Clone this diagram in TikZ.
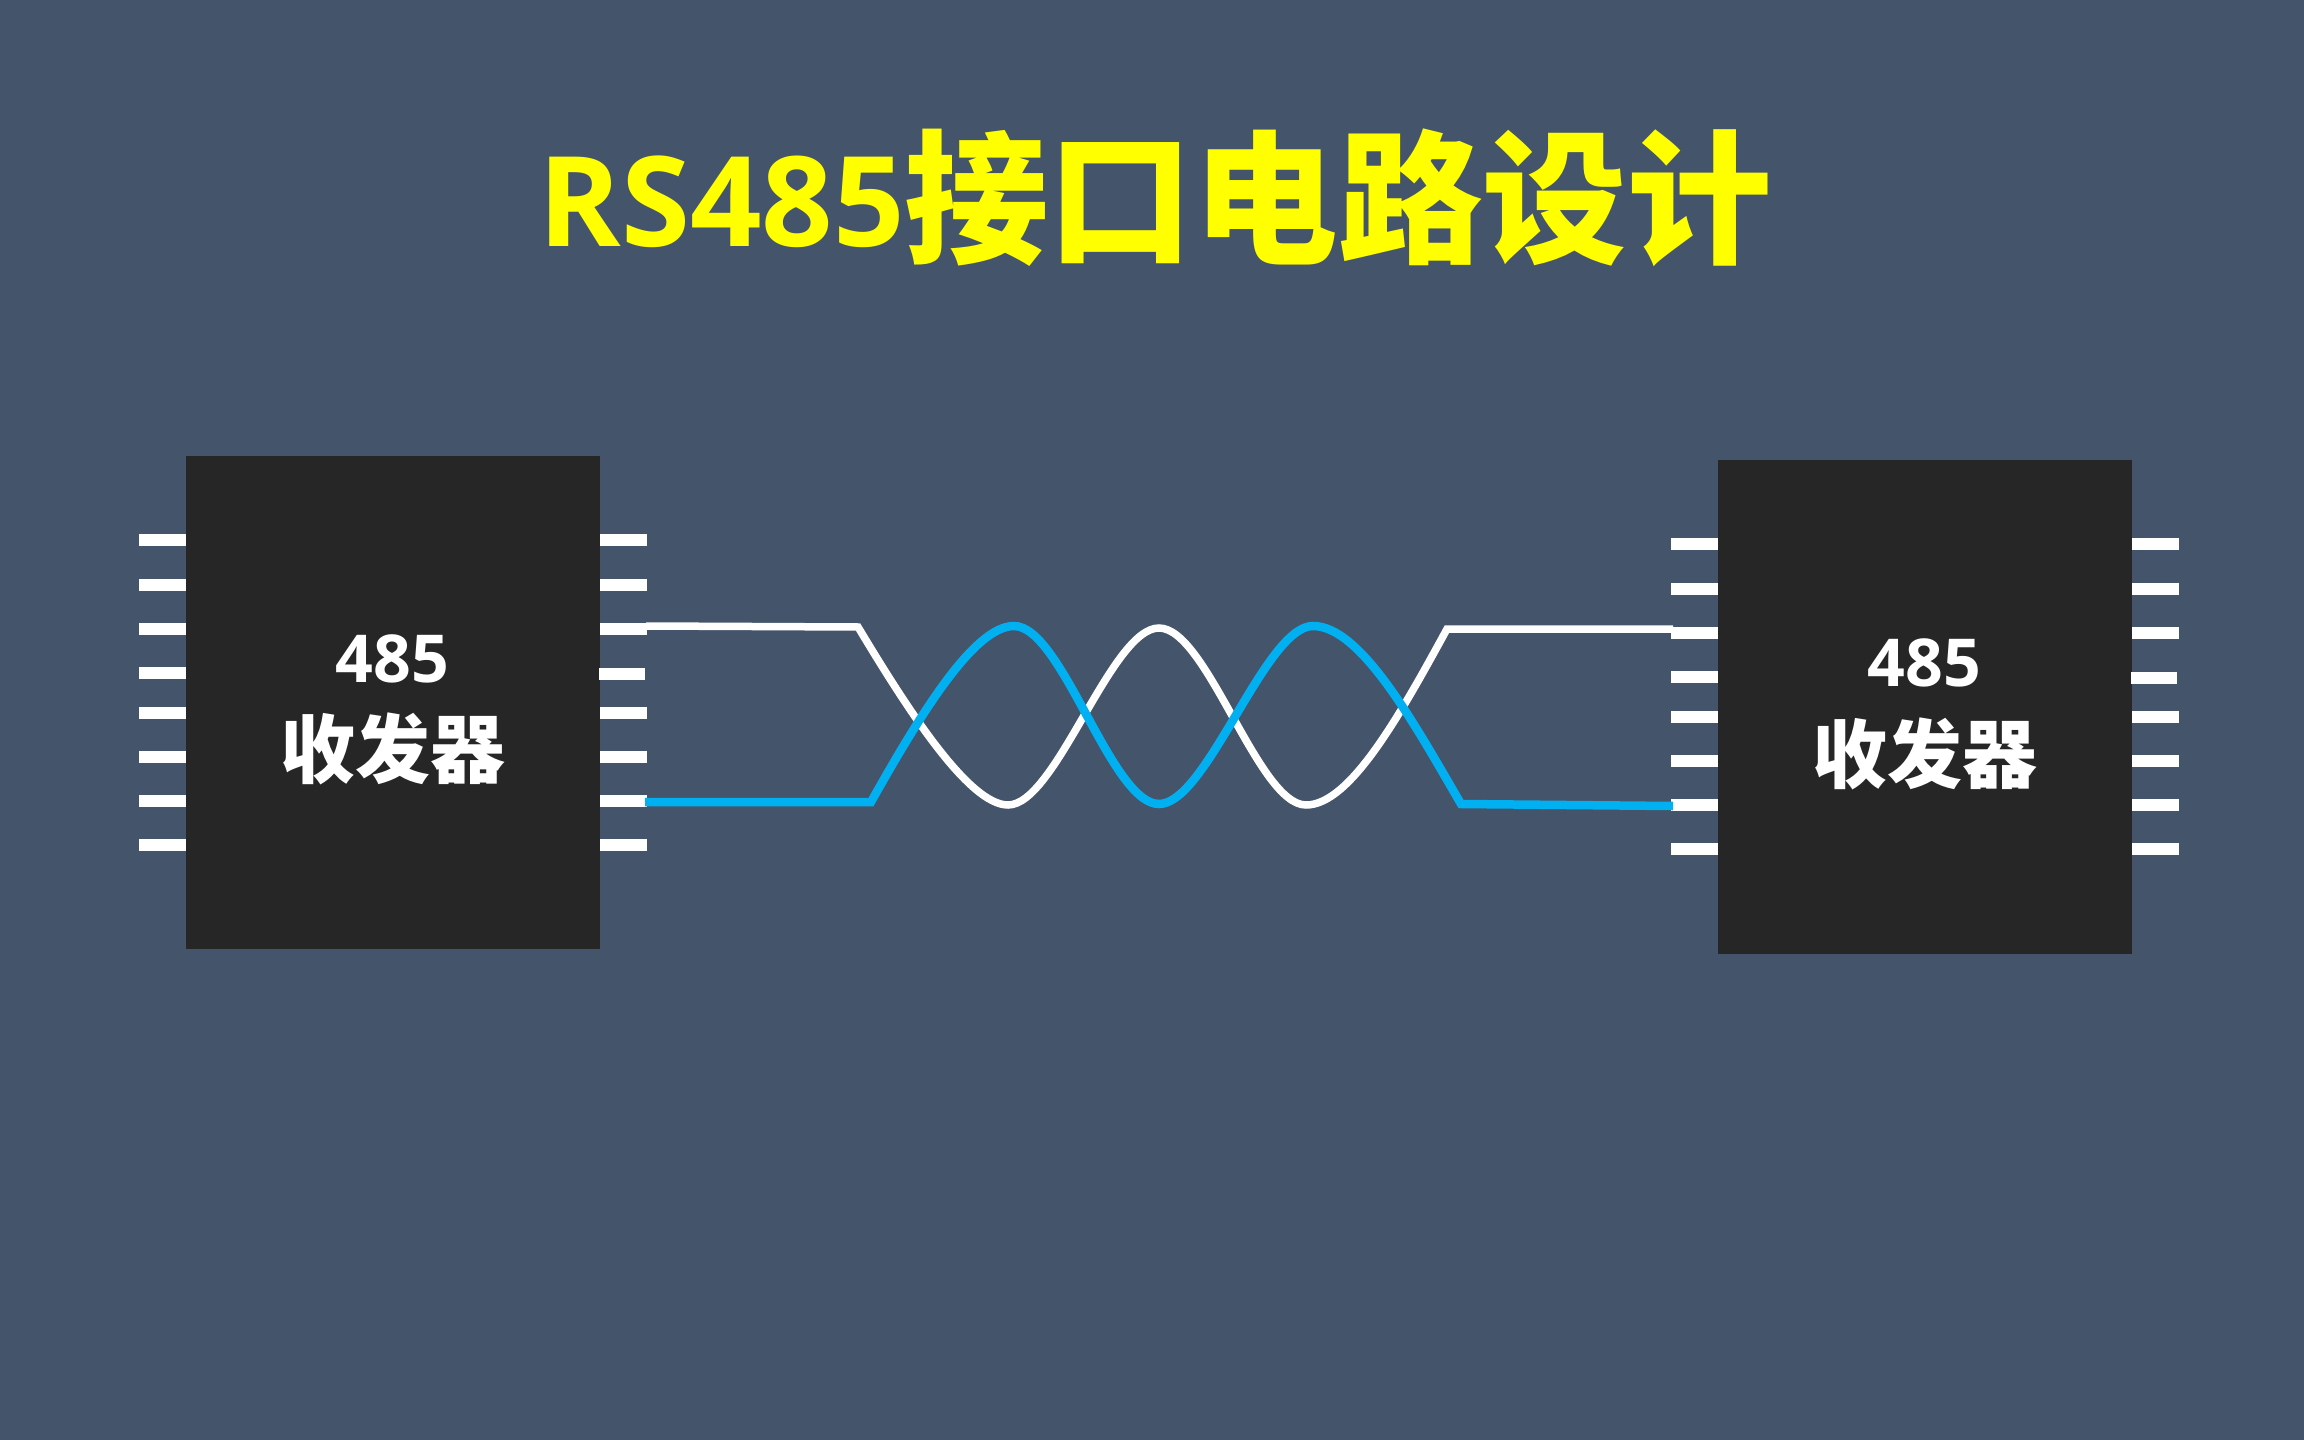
\documentclass[tikz,border=0pt]{standalone}
\usepackage{fontspec}
\newfontfamily\cjk{Noto Sans CJK SC}
\newfontfamily\latn{Open Sans}
\definecolor{slatebg}{HTML}{44546A}
\definecolor{chipgray}{HTML}{262626}
\definecolor{wireblue}{HTML}{00B0F0}
\definecolor{titleyellow}{HTML}{FFFF00}
\tikzset{
 chip/.style={fill=chipgray,minimum width=4.14cm,minimum height=4.93cm,inner sep=0pt},
 pin/.style={line width=12*0.01cm,white},
 chiptext/.style={white,inner sep=0pt,font=\cjk\bfseries},
 whitewire/.style={line width=7.5*0.01cm,white,line join=miter},
 bluewire/.style={line width=8.5*0.01cm,wireblue,line join=miter}
}
\begin{document}
\begin{tikzpicture}[x=0.01cm,y=-0.01cm]
 \fill[slatebg] (0,0) rectangle (2304,1440);
 \useasboundingbox (0,0) rectangle (2304,1440);
 \node[anchor=base,inner sep=0pt,text=titleyellow,font=\cjk\bfseries\fontsize{41.1}{44}\selectfont] (title) at (1155,253) {\raisebox{0.06cm}{\latn\fontsize{35.6}{44}\selectfont RS485}接口电路设计};
 % two chips
 \foreach \dx/\dy/\side in {0/0/L,1532/4.4/R} {
  \node[chip] (chip\side) at (393+\dx,702.5+\dy) {};
  \node[chiptext,font=\latn\bfseries\fontsize{18.8}{20}\selectfont] (num\side) at (392.5+\dx,659+\dy) {485};
  \node[chiptext,font=\cjk\bfseries\fontsize{21.3}{24}\selectfont] (name\side) at (393+\dx,749+\dy) {收发器};
  \foreach \y in {540,584.7,629,672.7,712.7,757,801,845} {
   \draw[pin] (139+\dx,\y+\dy) -- (186+\dx,\y+\dy);
  }
  \foreach \y in {540,584.7,629,712.7,757,801,845} {
   \draw[pin] (600+\dx,\y+\dy) -- (647+\dx,\y+\dy);
  }
  \draw[pin] (599+\dx,674+\dy) -- (645+\dx,674+\dy);
 }
 % wire ends
 \coordinate (whiteA) at (646,626);
 \coordinate (whiteB) at (858,627);
 \coordinate (whiteC) at (1008,805);
 \coordinate (whiteD) at (1159,628);
 \coordinate (whiteE) at (1306,805);
 \coordinate (whiteF) at (1447,629);
 \coordinate (whiteG) at (1673,629);
 \coordinate (blueA) at (645,802);
 \coordinate (blueB) at (871,802);
 \coordinate (blueC) at (1014,626);
 \coordinate (blueD) at (1159,804);
 \coordinate (blueE) at (1313,626);
 \coordinate (blueF) at (1461,804);
 \coordinate (blueG) at (1673,806);
 \draw[whitewire] (whiteA) -- (whiteB)
  .. controls (905,705) and (968,805) .. (whiteC)
  .. controls (1056,805) and (1111,628) .. (whiteD)
  .. controls (1207,628) and (1258,805) .. (whiteE)
  .. controls (1350,805) and (1400,715) .. (whiteF) -- (whiteG);
 \draw[bluewire] (blueA) -- (blueB)
  .. controls (920,715) and (974,626) .. (blueC)
  .. controls (1062,626) and (1111,804) .. (blueD)
  .. controls (1207,804) and (1265,626) .. (blueE)
  .. controls (1361,626) and (1415,725) .. (blueF) -- (blueG);
\end{tikzpicture}
\end{document}
